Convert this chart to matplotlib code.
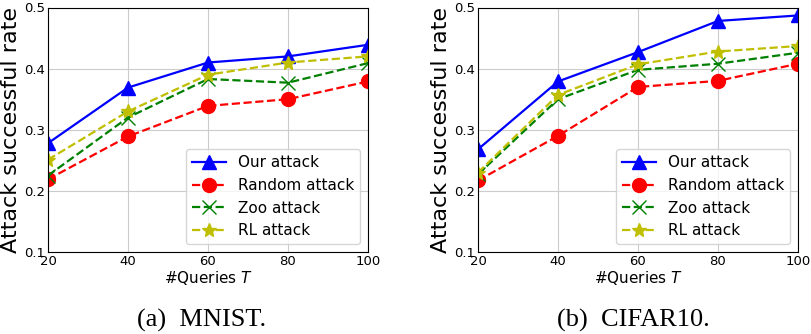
import matplotlib
matplotlib.use("Agg")
import matplotlib.pyplot as plt

queries = [20, 40, 60, 80, 100]
series_names = ["Our attack", "Random attack", "Zoo attack", "RL attack"]

mnist_our = [0.278, 0.369, 0.41, 0.42, 0.439]
mnist_random = [0.219, 0.289, 0.339, 0.35, 0.379]
mnist_zoo = [0.225, 0.32, 0.383, 0.377, 0.409]
mnist_rl = [0.251, 0.33, 0.39, 0.41, 0.42]

cifar_our = [0.268, 0.379, 0.427, 0.478, 0.487]
cifar_random = [0.217, 0.29, 0.37, 0.38, 0.408]
cifar_zoo = [0.227, 0.35, 0.398, 0.408, 0.426]
cifar_rl = [0.23, 0.357, 0.407, 0.428, 0.437]

captions = ["(a)  MNIST.", "(b)  CIFAR10."]
yticks = [0.1, 0.2, 0.3, 0.4, 0.5]
xticks = [20, 40, 60, 80, 100]

styles = [
    dict(color="b", linestyle="-", marker="^"),
    dict(color="r", linestyle="--", marker="o"),
    dict(color="g", linestyle="--", marker="x", markerfacecolor="none"),
    dict(color="y", linestyle="--", marker="*"),
]

fig = plt.figure(figsize=(8.12, 3.34), dpi=100)
positions = [
    [48 / 812, 1 - 252 / 334, 320 / 812, (252 - 7.5) / 334],
    [478 / 812, 1 - 252 / 334, 320 / 812, (252 - 7.5) / 334],
]
datasets = [
    [mnist_our, mnist_random, mnist_zoo, mnist_rl],
    [cifar_our, cifar_random, cifar_zoo, cifar_rl],
]
cap_x = [202 / 812, 633 / 812]

for pos, data, cap, cx in zip(positions, datasets, captions, cap_x):
    ax = fig.add_axes(pos)
    for name, vals, st in zip(series_names, data, styles):
        ax.plot(queries, vals, label=name, linewidth=1.6, markersize=10, **st)
    ax.set_xlim(20, 100)
    ax.set_ylim(0.1, 0.5)
    ax.set_xticks(xticks)
    ax.set_yticks(yticks)
    ax.tick_params(labelsize=9.5, length=0, pad=2)
    ax.grid(True, color="#cccccc", linewidth=0.8)
    ax.set_xlabel("#Queries $T$", fontsize=11, labelpad=1)
    ax.set_ylabel("Attack successful rate", fontsize=16, labelpad=2)
    ax.legend(loc="lower right", fontsize=11, handlelength=2.2)
    fig.text(cx, 0.042, cap, ha="center", va="center", fontsize=19,
             family="Liberation Serif")

fig.savefig("out.png", dpi=100)
